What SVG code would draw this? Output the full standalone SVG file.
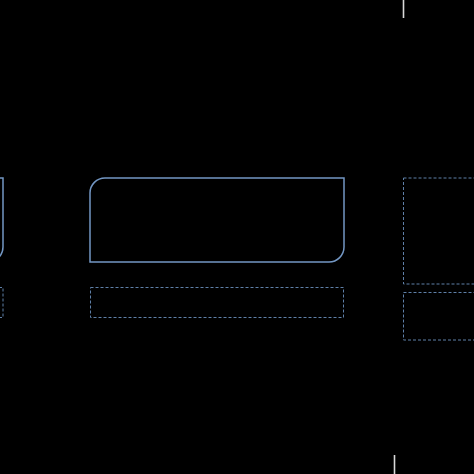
<svg xmlns="http://www.w3.org/2000/svg" width="474" height="474" viewBox="0 0 474 474">
<style>
.bubble{fill:#000;stroke:#7397c4;stroke-width:1.5}
.dash{fill:#000;stroke:#5f80a8;stroke-width:1;stroke-dasharray:3 2}
.conn{stroke:#d8d8d8;stroke-width:1.6;fill:none}
</style>
<rect width="474" height="474" fill="#000"/>
<g id="node-left">
<path class="bubble" d="M-251,178 H3 V247 A15,15 0 0 1 -12,262 H-251 Z"/>
</g>
<g id="node-left-dash">
<rect class="dash" x="-251" y="287.5" width="254" height="30"/>
</g>
<g id="node-main">
<path class="bubble" d="M105,178 H344 V247 A15,15 0 0 1 329,262 H90 V193 A15,15 0 0 1 105,178 Z"/>
</g>
<g id="node-main-dash">
<rect class="dash" x="90.5" y="287.5" width="253" height="30"/>
</g>
<g id="node-right">
<rect class="dash" x="403.5" y="178" width="200" height="106"/>
</g>
<g id="node-right-dash">
<rect class="dash" x="403.5" y="292.5" width="200" height="47.5"/>
</g>
<g id="connectors">
<line class="conn" x1="403.5" y1="0" x2="403.5" y2="18"/>
<line class="conn" x1="394.5" y1="455" x2="394.5" y2="474"/>
</g>
</svg>
